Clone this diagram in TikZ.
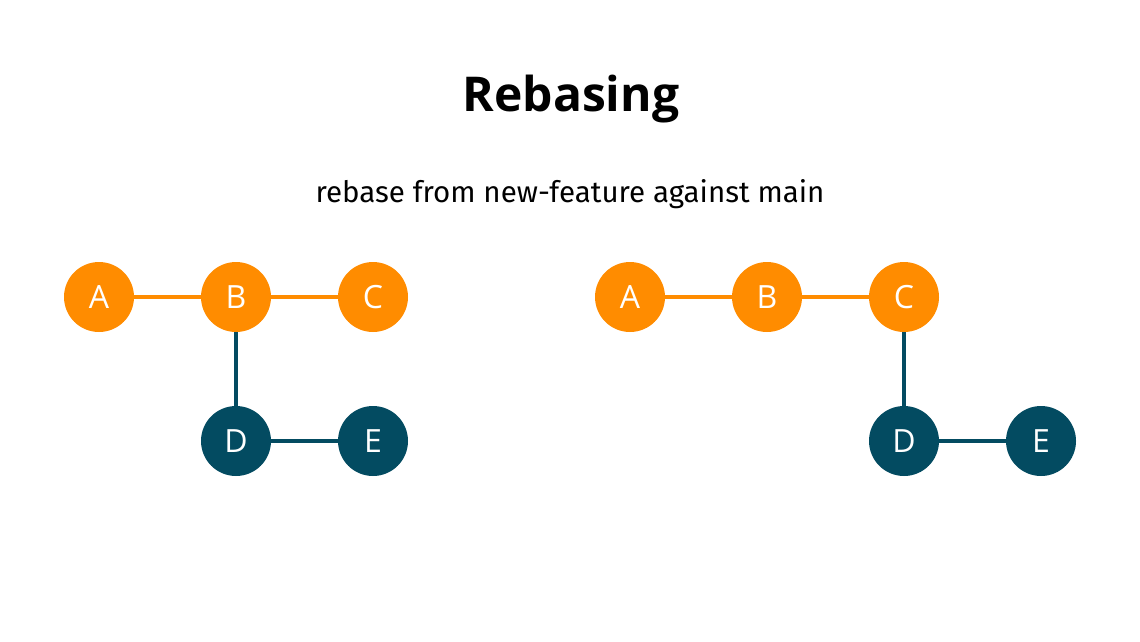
\documentclass[tikz,border=0pt]{standalone}
\usepackage{fontspec}
\setmainfont{Open Sans}
\newfontfamily\titlefont{Open Sans}
\newfontfamily\subfont{Fira Sans}
\definecolor{cOrange}{HTML}{FF8C00}
\definecolor{cTeal}{HTML}{034B61}
\tikzset{
  commit/.style={circle, minimum size=70pt, inner sep=0pt, text=white, font=\fontsize{32}{32}\selectfont},
  mainc/.style={commit, fill=cOrange},
  featc/.style={commit, fill=cTeal},
  mainl/.style={draw=cOrange, line width=4.5pt},
  featl/.style={draw=cTeal, line width=4.5pt},
}
\begin{document}
\begin{tikzpicture}[x=1pt,y=-1pt]
\useasboundingbox[fill=white] (0,0) rectangle (1140,641);
\node[font=\titlefont\bfseries\fontsize{48}{48}\selectfont] (title) at (571,99) {Rebasing};
\node[font=\subfont\fontsize{29.5}{29.5}\selectfont] (sub) at (570,194) {rebase from new-feature against main};
% left
\node[mainc] (lA) at (99,297) {A};
\node[mainc] (lB) at (236,297) {B};
\node[mainc] (lC) at (373,297) {C};
\node[featc] (lD) at (236,441) {D};
\node[featc] (lE) at (373,441) {E};
% right
\node[mainc] (rA) at (630,297) {A};
\node[mainc] (rB) at (767,297) {B};
\node[mainc] (rC) at (904,297) {C};
\node[featc] (rD) at (904,441) {D};
\node[featc] (rE) at (1041,441) {E};
\draw[mainl] (lA) -- (lB);
\draw[mainl] (lB) -- (lC);
\draw[featl] (lB) -- (lD);
\draw[featl] (lD) -- (lE);
\draw[mainl] (rA) -- (rB);
\draw[mainl] (rB) -- (rC);
\draw[featl] (rC) -- (rD);
\draw[featl] (rD) -- (rE);
\end{tikzpicture}
\end{document}
